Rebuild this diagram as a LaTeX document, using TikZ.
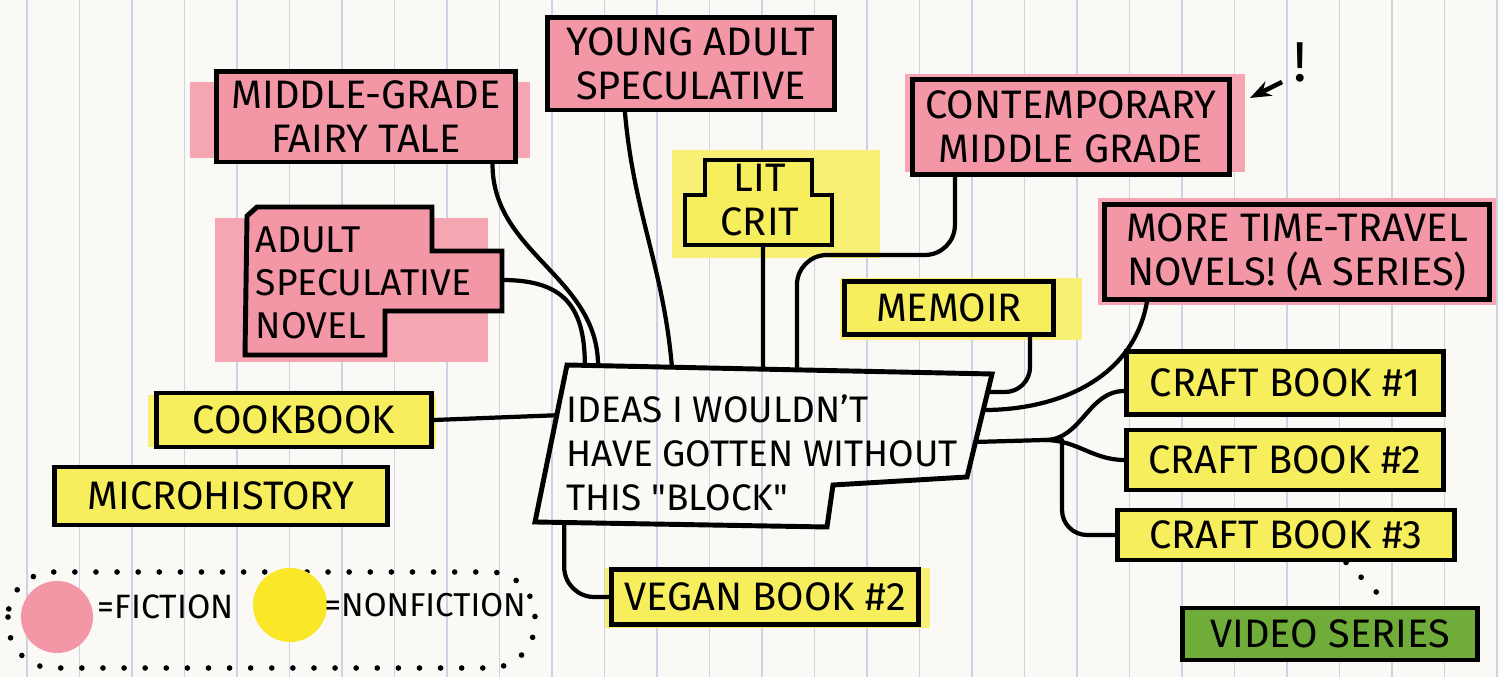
\documentclass[tikz,border=0pt]{standalone}
\usepackage{fontspec}
\setmainfont{Fira Sans}
\usetikzlibrary{calc,arrows.meta}

\definecolor{paper}{RGB}{250,249,246}
\definecolor{ruling}{RGB}{205,211,228}
\definecolor{fictionpink}{RGB}{243,150,165}
\definecolor{nonfictionyellow}{RGB}{246,238,92}
\definecolor{keyyellow}{RGB}{250,232,40}
\definecolor{videogreen}{RGB}{112,172,58}

\tikzset{
  outline/.style={draw=black, line width=1.4pt},
  hand/.style={font=\fontsize{11.3}{12.5}\selectfont, inner sep=0pt},
  box/.style={outline, hand, align=center},
  fic/.style={box, fill=fictionpink},
  nonfic/.style={box, fill=nonfictionyellow},
  link/.style={draw=black, line width=1.2pt, line cap=round},
  dots/.style={line width=1.6pt, line cap=round, dash pattern=on 0pt off 6pt},
}

\begin{document}
\begin{tikzpicture}[x=0.01cm, y=-0.01cm]
  \useasboundingbox (0,0) rectangle (1500,677);
  \fill[paper] (0,0) rectangle (1500,677);
  % ruled paper, turned sideways
  \foreach \i in {0,...,28}
    \draw[ruling, line width=0.5pt] ({27+52.5*\i},0) -- ({27+52.5*\i},677);

  % marker strokes behind the boxes
  \fill[fictionpink!85] (190,82) rectangle (530,158);
  \fill[fictionpink!85] (905,74) rectangle (1245,172);
  \fill[fictionpink!85] (215,218) rectangle (488,362);
  \fill[fictionpink!85] (1098,198) rectangle (1496,305);
  \fill[nonfictionyellow!85] (672,150) rectangle (880,258);
  \fill[nonfictionyellow!85] (840,278) rectangle (1082,340);
  \fill[nonfictionyellow!85] (148,395) rectangle (436,447);
  \fill[nonfictionyellow!85] (605,568) rectangle (930,628);

  % fiction
  \node[fic, minimum width=2.98cm, minimum height=0.9cm] (fairy) at (366,117) {MIDDLE-GRADE\\FAIRY TALE};
  \node[fic, minimum width=2.87cm, minimum height=0.92cm] (youngadult) at (691,64) {YOUNG ADULT\\SPECULATIVE};
  \node[fic, minimum width=3.17cm, minimum height=0.95cm] (contemp) at (1071,127) {CONTEMPORARY\\MIDDLE GRADE};
  \node[fic, minimum width=3.85cm, minimum height=0.95cm] (timetravel) at (1297,252) {MORE TIME-TRAVEL\\NOVELS! (A SERIES)};
  \draw[outline, fill=fictionpink] (257,207) -- (432,207) -- (432,251) -- (502,251) -- (502,311)
    -- (385,311) -- (385,355) -- (245,355) -- (247,216) -- cycle;
  \node[hand, align=left, anchor=west, font=\fontsize{10.6}{12.3}\selectfont] (adult) at (255,283) {ADULT\\SPECULATIVE\\NOVEL};
  \coordinate (adultE) at (502,280);

  % nonfiction
  \draw[outline, fill=nonfictionyellow] (705,160) -- (812,160) -- (812,195) -- (832,195)
    -- (832,245) -- (685,245) -- (685,195) -- (705,195) -- cycle;
  \node[hand, align=center] (litcrit) at (760,200) {LIT\\CRIT};
  \coordinate (litcritS) at (763,245);
  \node[nonfic, minimum width=2.08cm, minimum height=0.53cm] (memoir) at (949,308) {MEMOIR};
  \node[nonfic, minimum width=2.75cm, minimum height=0.54cm] (cookbook) at (294,420) {COOKBOOK};
  \node[nonfic, minimum width=3.33cm, minimum height=0.58cm] (microhistory) at (221,496) {MICROHISTORY};
  \node[nonfic, minimum width=3.06cm, minimum height=0.55cm] (vegan) at (765,597) {VEGAN BOOK \#2};
  \node[nonfic, minimum width=3.16cm, minimum height=0.63cm] (craft1) at (1285,383) {CRAFT BOOK \#1};
  \node[nonfic, minimum width=3.16cm, minimum height=0.6cm] (craft2) at (1285,460) {CRAFT BOOK \#2};
  \node[nonfic, minimum width=3.37cm, minimum height=0.5cm] (craft3) at (1286,535) {CRAFT BOOK \#3};
  \node[box, fill=videogreen, minimum width=2.95cm, minimum height=0.52cm] (video) at (1330,634) {VIDEO SERIES};

  % the centre
  \coordinate (ideasNW) at (567,365);
  \coordinate (ideasNE) at (992,374);
  \coordinate (ideasSE) at (967,477);
  \coordinate (ideasStep) at (833,485);
  \coordinate (ideasStepB) at (827,527);
  \coordinate (ideasSW) at (535,522);
  \draw[outline] (ideasNW) -- (ideasNE) -- (ideasSE) -- (ideasStep) -- (ideasStepB) -- (ideasSW) -- cycle;
  \node[hand, align=left, anchor=west, font=\fontsize{10.5}{12.5}\selectfont] (ideas) at (566,453)
    {IDEAS I WOULDN'T\\HAVE GOTTEN WITHOUT\\THIS \textquotedbl BLOCK\textquotedbl};

  % branches
  \draw[link] ([xshift=-0.25cm]fairy.south east) to[out=-90, in=90] ($(ideasNW)!0.073!(ideasNE)$);
  \draw[link] (adultE) to[out=0, in=90, looseness=1.3] ($(ideasNW)!0.042!(ideasNE)$);
  \draw[link] ([xshift=-0.66cm]youngadult.south) to[out=-85, in=95] ($(ideasNW)!0.247!(ideasNE)$);
  \draw[link] (litcritS) -- ($(ideasNW)!0.461!(ideasNE)$);
  \draw[link, rounded corners=0.3cm] ([xshift=-1.16cm]contemp.south) -- ++(0,78) -| ($(ideasNW)!0.541!(ideasNE)$);
  \draw[link, rounded corners=0.25cm] ([xshift=0.81cm]memoir.south) |- ($(ideasNE)!0.175!(ideasSE)$);
  \draw[link] ([xshift=-1.5cm]timetravel.south) to[out=-100, in=0] ($(ideasNE)!0.35!(ideasSE)$);
  \coordinate (fork) at (1045,440);
  \draw[link] ($(ideasNE)!0.66!(ideasSE)$) -- (fork);
  \draw[link] (fork) to[out=0, in=180] ([yshift=-0.08cm]craft1.west);
  \draw[link] (fork) to[out=0, in=180] (craft2.west);
  \draw[link, rounded corners=0.25cm] ([xshift=0.17cm]fork) |- (craft3.west);
  \draw[link] (cookbook.east) -- ($(ideasSW)!0.68!(ideasNW)$);
  \draw[link, rounded corners=0.3cm] ($(ideasStepB)!0.9!(ideasSW)$) |- (vegan.west);
  \draw[dots] ([xshift=0.6cm]craft3.south) -- ([xshift=0.6cm]video.north);

  % the "!" note
  \node[hand, font=\fontsize{16}{16}\selectfont] (bang) at (1300,62) {!};
  \coordinate (noteTail) at (1282,82);
  \coordinate (noteHead) at (1250,98);
  \draw[line width=1.3pt, -{Stealth[length=6pt]}] (noteTail) -- (noteHead);

  % key
  \draw[dots, rounded corners=0.45cm] (8,572) rectangle (535,668);
  \node[circle, fill=fictionpink, minimum size=0.72cm, inner sep=0pt] (fictionblob) at (57,617) {};
  \node[hand, anchor=west, font=\fontsize{9.6}{11}\selectfont] (fiction) at (97,607) {=FICTION};
  \node[circle, fill=keyyellow, minimum size=0.74cm, inner sep=0pt] (nonfictionblob) at (290,605) {};
  \node[hand, anchor=west, font=\fontsize{9.4}{11}\selectfont] (nonfiction) at (324,605) {=NONFICTION};
\end{tikzpicture}
\end{document}
